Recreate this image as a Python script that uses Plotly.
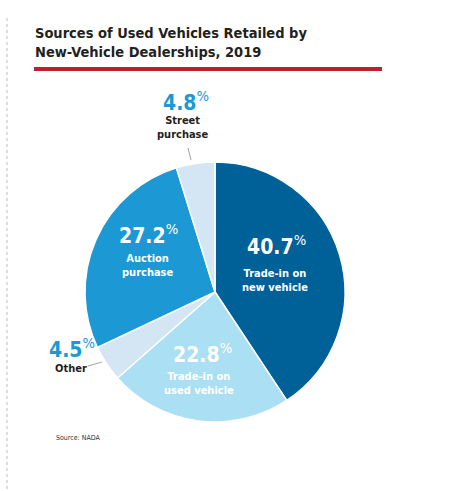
import plotly.graph_objects as go

categories = ["Trade-in on new vehicle", "Trade-in on used vehicle", "Other",
              "Auction purchase", "Street purchase"]
values = [40.7, 22.8, 4.5, 27.2, 4.8]
label_lines = [["Trade-in on", "new vehicle"], ["Trade-in on", "used vehicle"], ["Other"],
               ["Auction", "purchase"], ["Street", "purchase"]]
colors = ["#006199", "#ABDFF3", "#D4E5F4", "#1C98D4", "#D4E5F4"]

W, H = 460, 491
FONT = "DejaVu Sans Condensed, Roboto Condensed, Arial Narrow, DejaVu Sans, sans-serif"

def px(x):
    return x / W

def py(y):
    return 1 - y / H

fig = go.Figure()
fig.add_trace(go.Pie(
    labels=categories, values=values, sort=False, direction="clockwise", rotation=0,
    marker=dict(colors=colors, line=dict(color="white", width=1.5)),
    textinfo="none", hoverinfo="label+value", showlegend=False,
    domain=dict(x=[px(85), px(345)], y=[py(422), py(162)]),
))

# label layout in pixels: (x of % number, y of % number, x of text, y of text)
layout_pos = [(276, 245, 275, 280.5),
              (202, 353, 199, 383.5),
              (72, 348, 71, 368),
              (148, 234, 147, 265.5),
              (186, 101, 182, 127.5)]
inside = [True, True, False, True, False]
annotations = []
for i, (cat, v) in enumerate(zip(categories, values)):
    pct_color = "white" if inside[i] else "#1C98D4"
    txt_color = "white" if inside[i] else "#231F20"
    pct_text = f"<b>{v}</b><sup>%</sup>"
    lbl_text = "<b>" + "<br>".join(label_lines[i]) + "</b>"
    xn, yn, xt, yt = layout_pos[i]
    annotations.append(dict(x=px(xn), y=py(yn), xref="paper", yref="paper",
                            xanchor="center", yanchor="middle", showarrow=False,
                            text=pct_text,
                            font=dict(family=FONT, size=21, color=pct_color)))
    annotations.append(dict(x=px(xt), y=py(yt), xref="paper", yref="paper",
                            xanchor="center", yanchor="middle", showarrow=False,
                            text=lbl_text,
                            font=dict(family=FONT, size=11, color=txt_color)))

# title and source
annotations.append(dict(x=px(33), y=py(43), xref="paper", yref="paper",
                        xanchor="left", yanchor="middle", showarrow=False, align="left",
                        text="<b>Sources of Used Vehicles Retailed by<br>New-Vehicle Dealerships, 2019</b>",
                        font=dict(family=FONT, size=14.5, color="#231F20")))
annotations.append(dict(x=px(54), y=py(438), xref="paper", yref="paper",
                        xanchor="left", yanchor="middle", showarrow=False,
                        text="Source: NADA",
                        font=dict(family=FONT, size=7, color="#333333")))

shapes = [
    dict(type="line", xref="paper", yref="paper", x0=px(34), x1=px(382),
         y0=py(69), y1=py(69), line=dict(color="#BE1E2D", width=4)),
    dict(type="line", xref="paper", yref="paper", x0=px(7), x1=px(7),
         y0=py(18), y1=0, line=dict(color="#BBBBBB", width=1, dash="dot")),
    dict(type="line", xref="paper", yref="paper", x0=px(188), x1=px(191),
         y0=py(148), y1=py(160), line=dict(color="#888888", width=0.8)),
    dict(type="line", xref="paper", yref="paper", x0=px(88), x1=px(102),
         y0=py(366), y1=py(362), line=dict(color="#888888", width=0.8)),
]

fig.update_layout(width=W, height=H, margin=dict(l=0, r=0, t=0, b=0),
                  paper_bgcolor="white", plot_bgcolor="white",
                  annotations=annotations, shapes=shapes)
fig.write_html("out.html", config={"displayModeBar": False},
               post_script="document.body.style.margin='0';document.body.style.padding='0';")
